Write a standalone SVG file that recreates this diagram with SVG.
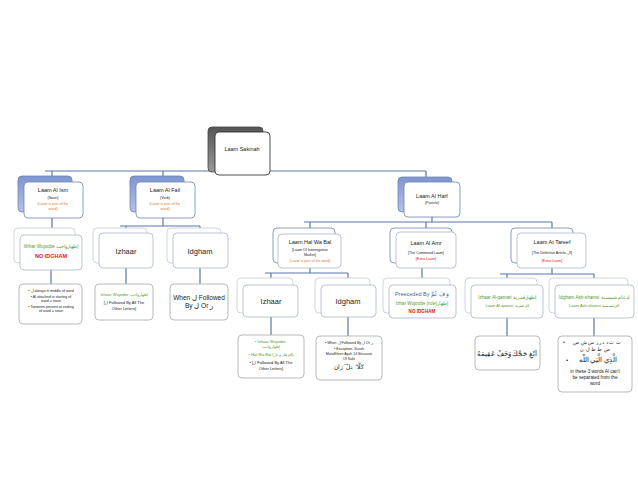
<svg xmlns="http://www.w3.org/2000/svg" width="638" height="493" viewBox="0 0 638 493">
<defs>
<linearGradient id="gb" x1="0" y1="0" x2="0" y2="1"><stop offset="0" stop-color="#7f95cf"/><stop offset="1" stop-color="#b3c1e6"/></linearGradient>
<linearGradient id="gg" x1="0" y1="0" x2="0" y2="1"><stop offset="0" stop-color="#555"/><stop offset="1" stop-color="#999"/></linearGradient>
</defs>
<style>
.f{fill:#fff;stroke:#a9b5cc;stroke-width:0.8}
.b{fill:#fff;stroke:#c3cad6;stroke-width:0.8}
.bb{fill:url(#gb);stroke:#6f83b8;stroke-width:0.8}
.bw{fill:#fff;stroke:#6f83b8;stroke-width:0.8}
.l{fill:#fff;stroke:#a8a8a8;stroke-width:0.8}
.c{stroke:#5a78a8;stroke-width:1.2;fill:none}
text{font-family:"Liberation Sans","Noto Sans",sans-serif;text-anchor:middle;fill:#222}
.t{font-size:5.5px}.s{font-size:3.6px}.o{font-size:3.6px;fill:#e07b39}.r{font-size:3.6px;fill:#e02020}
.g{font-size:4.6px;fill:#5a9a2a}.n{font-size:5.5px;fill:#e02020;font-weight:bold}.m{font-size:7.5px}
</style>
<g id="connectors" class="c">
<path d="M237 175V171M45 171H426M52 171V182M163 171V182M426 171V182"/>
<path d="M52 218V235M163 218V226M120 226H200M126 226V233M200 226V233"/>
<path d="M432 217V222M304 222H552M310 222V234M426 222V232M552 222V233"/>
<path d="M51 270V284M126 268V284M200 268V284"/>
<path d="M310 268V273M265 273H348M271 273V285M348 273V285M422 268V285"/>
<path d="M552 268V274M500 274H594M507 274V285M594 274V285"/>
<path d="M271 317V335M348 317V336M507 318V336M594 318V336"/>
</g>
<g id="root"><rect x="208" y="127" width="55" height="45" rx="4" fill="url(#gg)" stroke="#444" stroke-width="0.8"/><rect x="215" y="132" width="55" height="43" rx="4" fill="#fff" stroke="#222" stroke-width="0.8"/><text x="242" y="151" class="t">Laam Sakinah</text></g>
<g id="ism"><rect x="18" y="176" width="54" height="36" rx="4" class="bb"/><rect x="24" y="182" width="59" height="36" rx="4" class="bw"/><text x="53" y="192" class="t">Laam Al Ism</text><text x="53" y="199" class="s">(Noun)</text><text x="53" y="205" class="o">[Laam is part of the</text><text x="53" y="210" class="o">word]</text></g>
<g id="fail"><rect x="130" y="176" width="54" height="36" rx="4" class="bb"/><rect x="136" y="182" width="59" height="36" rx="4" class="bw"/><text x="165" y="192" class="t">Laam Al Fail</text><text x="165" y="199" class="s">(Verb)</text><text x="165" y="205" class="o">[Laam is part of the</text><text x="165" y="210" class="o">word]</text></g>
<g id="harf"><rect x="398" y="177" width="54" height="35" rx="4" class="bb"/><rect x="404" y="182" width="56" height="35" rx="4" class="bw"/><text x="432" y="198" class="t">Laam Al Harf</text><text x="432" y="204" class="s">(Particle)</text></g>
<g id="ism-ithar"><rect x="14" y="228" width="61" height="35" rx="4" class="b"/><rect x="20" y="235" width="62" height="35" rx="4" class="f"/><text x="51" y="248" class="g">Ithhar Wujoobe إظهارواجب</text><text x="51" y="258" class="n">NO IDGHAM</text></g>
<g id="fail-izhaar"><rect x="93" y="228" width="54" height="35" rx="4" class="b"/><rect x="99" y="233" width="54" height="35" rx="4" class="f"/><text x="126" y="254" class="m">Izhaar</text></g>
<g id="fail-idgham"><rect x="167" y="228" width="54" height="35" rx="4" class="b"/><rect x="173" y="233" width="55" height="35" rx="4" class="f"/><text x="200" y="254" class="m">Idgham</text></g>
<g id="halwabal"><rect x="273" y="228" width="62" height="35" rx="4" class="bw"/><rect x="278" y="234" width="63" height="34" rx="4" class="f"/><text x="310" y="244" class="t">Laam Hal Wa Bal</text><text x="310" y="251" class="s">[Laam Of Interrogative</text><text x="310" y="256" class="s">Marker]</text><text x="310" y="262" class="o">[Laam is part of the word]</text></g>
<g id="amr"><rect x="390" y="228" width="62" height="35" rx="4" class="bw"/><rect x="396" y="232" width="60" height="36" rx="4" class="f"/><text x="426" y="245" class="t">Laam Al Amr</text><text x="426" y="254" class="s">[The Command Laam]</text><text x="426" y="260" class="r">[Extra Laam]</text></g>
<g id="tareef"><rect x="511" y="228" width="62" height="35" rx="4" class="bw"/><rect x="517" y="233" width="69" height="35" rx="4" class="f"/><text x="552" y="244" class="t">Laam At Tareef</text><text x="552" y="254" class="s">[The Definitive Article-ال]</text><text x="552" y="262" class="r">[Extra Laam]</text></g>
<g id="hal-izhaar"><rect x="237" y="278" width="56" height="35" rx="4" class="b"/><rect x="243" y="285" width="55" height="32" rx="4" class="f"/><text x="271" y="304" class="m">Izhaar</text></g>
<g id="hal-idgham"><rect x="315" y="278" width="55" height="35" rx="4" class="b"/><rect x="321" y="285" width="55" height="32" rx="4" class="f"/><text x="348" y="304" class="m">Idgham</text></g>
<g id="preceded"><rect x="383" y="278" width="67" height="35" rx="4" class="b"/><rect x="389" y="285" width="67" height="33" rx="4" class="f"/><text x="422" y="296" style="font-size:5.5px;fill:#4b5fa0">Preeceded By وَ فَ ثُمَّ</text><text x="422" y="305" class="g">Izhar Wujoobe (rule)إظهار</text><text x="422" y="313" style="font-size:4.6px;fill:#e02020;font-weight:bold">NO IDGHAM</text></g>
<g id="qamari"><rect x="465" y="278" width="72" height="35" rx="4" class="b"/><rect x="471" y="285" width="72" height="33" rx="4" class="f"/><text x="507" y="299" class="g">Izhaar Al-qamari إظهارقمرية</text><text x="507" y="307" class="g" style="font-size:4px">Laam Al-qamari لام قمرية</text></g>
<g id="shamsi"><rect x="549" y="278" width="79" height="35" rx="4" class="b"/><rect x="555" y="285" width="79" height="33" rx="4" class="f"/><text x="594" y="299" class="g">Idgham Ash-shamsi إدغام شمسية</text><text x="594" y="307" class="g" style="font-size:4px">Laam Ash-shamsi لام شمسية</text></g>
<g id="ism-leaf"><rect x="19" y="284" width="63" height="40" rx="4" class="l"/><text x="51" y="292" class="s">• ل always in middle of word</text><text x="51" y="298" class="s">• Al attached in starting of</text><text x="51" y="302" class="s">word = noun</text><text x="51" y="308" class="s">• Tanween present at ending</text><text x="51" y="312" class="s">of word = noun</text></g>
<g id="fail-izhaar-leaf"><rect x="95" y="284" width="58" height="36" rx="4" class="l"/><text x="124" y="296" class="g" style="font-size:4px">Izhaar Wujoobe إظهارواجب</text><text x="124" y="304" style="font-size:4px">[ل Followed By All The</text><text x="124" y="310" style="font-size:4px">Other Letters]</text></g>
<g id="fail-idgham-leaf"><rect x="170" y="284" width="58" height="36" rx="4" class="l"/><text x="199" y="300" style="font-size:6.5px">When ل Followed</text><text x="199" y="308" style="font-size:6.5px">By ل Or ر</text></g>
<g id="hal-izhaar-leaf"><rect x="238" y="335" width="66" height="43" rx="4" class="l"/><text x="271" y="343" class="g" style="font-size:4px">• Izhaar Wujoobe-</text><text x="271" y="348" class="g" style="font-size:4px">إظهارواجب</text><text x="271" y="356" class="g" style="font-size:4px">• Hal Wa Bal-(لام هل و بل)</text><text x="271" y="364" style="font-size:4px">• [ل Followed By All The</text><text x="271" y="370" style="font-size:4px">Other Letters]</text></g>
<g id="hal-idgham-leaf"><rect x="316" y="336" width="66" height="44" rx="4" class="l"/><text x="349" y="344" class="s">• When ل Followed By ل Or ر</text><text x="349" y="350" class="s">• Exception- Surah</text><text x="349" y="355" class="s">Mutaffifeen Ayah 14 Because</text><text x="349" y="360" class="s">Of Sakt</text><text x="349" y="369" style="font-size:6px">كَلَّا ۖ بَلْ ۜ رَانَ</text></g>
<g id="qamari-leaf"><rect x="475" y="336" width="65" height="34" rx="4" class="l"/><text x="507" y="356" style="font-size:6.5px">اَبْغِ حَجَّكَ وَخَفْ عَقِيمَهُ</text></g>
<g id="shamsi-leaf"><rect x="558" y="336" width="74" height="56" rx="4" class="l"/><text x="564" y="344" style="font-size:5px">•</text><text x="597" y="344" style="font-size:5px">ت ث د ذ ر ز س ش ص</text><text x="595" y="351" style="font-size:5px">ض ط ظ ل ن</text><text x="567" y="362" style="font-size:6px">•</text><text x="598" y="362" style="font-size:7px">الَّذِي الَّتِي اللّٰه</text><text x="595" y="373" style="font-size:4.6px">in these 3 words Al can't</text><text x="595" y="379" style="font-size:4.6px">be separated from the</text><text x="595" y="385" style="font-size:4.6px">word</text></g>
</svg>
